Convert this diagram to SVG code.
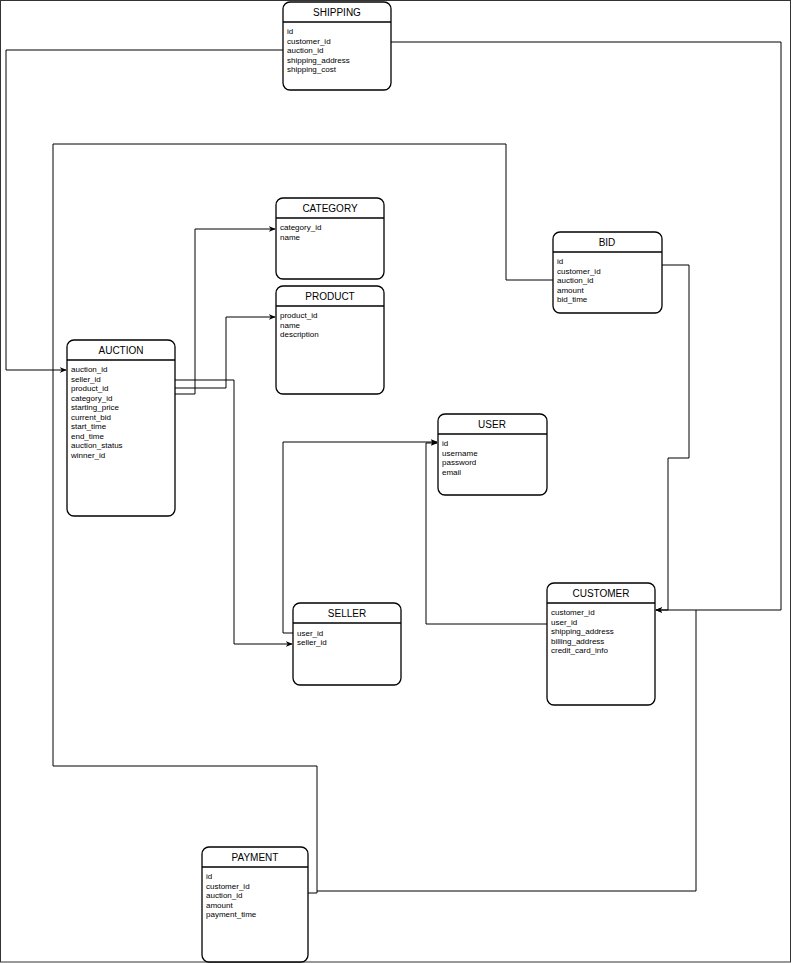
<svg xmlns="http://www.w3.org/2000/svg" width="791" height="963" viewBox="0 0 791 963">
<defs>
<marker id="ar" viewBox="0 0 10 10" refX="9" refY="5" markerWidth="7" markerHeight="7" orient="auto" markerUnits="userSpaceOnUse"><path d="M0,1 L10,5 L0,9 L3,5 Z" fill="#000"/></marker>
</defs>
<style>
.box{fill:#fff;stroke:#000;stroke-width:1.3}
.hl{stroke:#000;stroke-width:1.3}
.t{font-family:"Liberation Sans",Arial,sans-serif;font-size:10px;text-anchor:middle;fill:#000}
.r{font-family:"Liberation Sans",Arial,sans-serif;font-size:8px;fill:#000}
.c{fill:none;stroke:#000;stroke-width:1}
</style>
<rect x="0.5" y="0.5" width="790" height="961.5" fill="#fff" stroke="#333" stroke-width="1"/>
<g id="connectors">
<path class="c" d="M283,50 H6 V370 H66" marker-end="url(#ar)"/>
<path class="c" d="M391,42 H781 V610 H656" marker-end="url(#ar)"/>
<path class="c" d="M553,280 H506 V144 H53 V766 H317 V893 H308"/>
<path class="c" d="M662,265 H689 V458 H668 V610 H656" marker-end="url(#ar)"/>
<path class="c" d="M317,891 H696 V610"/>
<path class="c" d="M175,394 H195 V229 H275" marker-end="url(#ar)"/>
<path class="c" d="M175,388 H226 V317 H275" marker-end="url(#ar)"/>
<path class="c" d="M175,380 H234 V644 H292" marker-end="url(#ar)"/>
<path class="c" d="M293,633 H283 V442 H437" marker-end="url(#ar)"/>
<path class="c" d="M547,624 H426 V443 H437" marker-end="url(#ar)"/>
</g>
<g id="shipping">
<rect class="box" x="283" y="2" width="108" height="88" rx="7"/><line class="hl" x1="283" y1="22" x2="391" y2="22"/>
<text class="t" x="337" y="16">SHIPPING</text>
<text class="r" x="287" y="34">id</text><text class="r" x="287" y="44">customer_id</text><text class="r" x="287" y="53">auction_id</text><text class="r" x="287" y="63">shipping_address</text><text class="r" x="287" y="72">shipping_cost</text>
</g>
<g id="category">
<rect class="box" x="276" y="198" width="108" height="81" rx="7"/><line class="hl" x1="276" y1="218" x2="384" y2="218"/>
<text class="t" x="330" y="212">CATEGORY</text>
<text class="r" x="280" y="230">category_id</text><text class="r" x="280" y="240">name</text>
</g>
<g id="product">
<rect class="box" x="276" y="286" width="108" height="108" rx="7"/><line class="hl" x1="276" y1="306" x2="384" y2="306"/>
<text class="t" x="330" y="300">PRODUCT</text>
<text class="r" x="280" y="318">product_id</text><text class="r" x="280" y="328">name</text><text class="r" x="280" y="337">description</text>
</g>
<g id="auction">
<rect class="box" x="67" y="340" width="108" height="176" rx="7"/><line class="hl" x1="67" y1="360" x2="175" y2="360"/>
<text class="t" x="121" y="354">AUCTION</text>
<text class="r" x="71" y="372">auction_id</text><text class="r" x="71" y="382">seller_id</text><text class="r" x="71" y="391">product_id</text><text class="r" x="71" y="401">category_id</text><text class="r" x="71" y="410">starting_price</text><text class="r" x="71" y="420">current_bid</text><text class="r" x="71" y="429">start_time</text><text class="r" x="71" y="439">end_time</text><text class="r" x="71" y="448">auction_status</text><text class="r" x="71" y="458">winner_id</text>
</g>
<g id="bid">
<rect class="box" x="553" y="232" width="109" height="81" rx="7"/><line class="hl" x1="553" y1="252" x2="662" y2="252"/>
<text class="t" x="607" y="246">BID</text>
<text class="r" x="557" y="264">id</text><text class="r" x="557" y="274">customer_id</text><text class="r" x="557" y="283">auction_id</text><text class="r" x="557" y="293">amount</text><text class="r" x="557" y="302">bid_time</text>
</g>
<g id="user">
<rect class="box" x="438" y="414" width="109" height="81" rx="7"/><line class="hl" x1="438" y1="434" x2="547" y2="434"/>
<text class="t" x="492" y="428">USER</text>
<text class="r" x="442" y="446">id</text><text class="r" x="442" y="456">username</text><text class="r" x="442" y="465">password</text><text class="r" x="442" y="475">email</text>
</g>
<g id="customer">
<rect class="box" x="547" y="583" width="108" height="122" rx="7"/><line class="hl" x1="547" y1="603" x2="655" y2="603"/>
<text class="t" x="601" y="597">CUSTOMER</text>
<text class="r" x="551" y="615">customer_id</text><text class="r" x="551" y="625">user_id</text><text class="r" x="551" y="634">shipping_address</text><text class="r" x="551" y="644">billing_address</text><text class="r" x="551" y="653">credit_card_info</text>
</g>
<g id="seller">
<rect class="box" x="293" y="603" width="108" height="82" rx="7"/><line class="hl" x1="293" y1="623" x2="401" y2="623"/>
<text class="t" x="347" y="617">SELLER</text>
<text class="r" x="297" y="636">user_id</text><text class="r" x="297" y="645">seller_id</text>
</g>
<g id="payment">
<rect class="box" x="202" y="847" width="106" height="115" rx="7"/><line class="hl" x1="202" y1="867" x2="308" y2="867"/>
<text class="t" x="255" y="861">PAYMENT</text>
<text class="r" x="206" y="879">id</text><text class="r" x="206" y="889">customer_id</text><text class="r" x="206" y="898">auction_id</text><text class="r" x="206" y="908">amount</text><text class="r" x="206" y="917">payment_time</text>
</g>
</svg>
